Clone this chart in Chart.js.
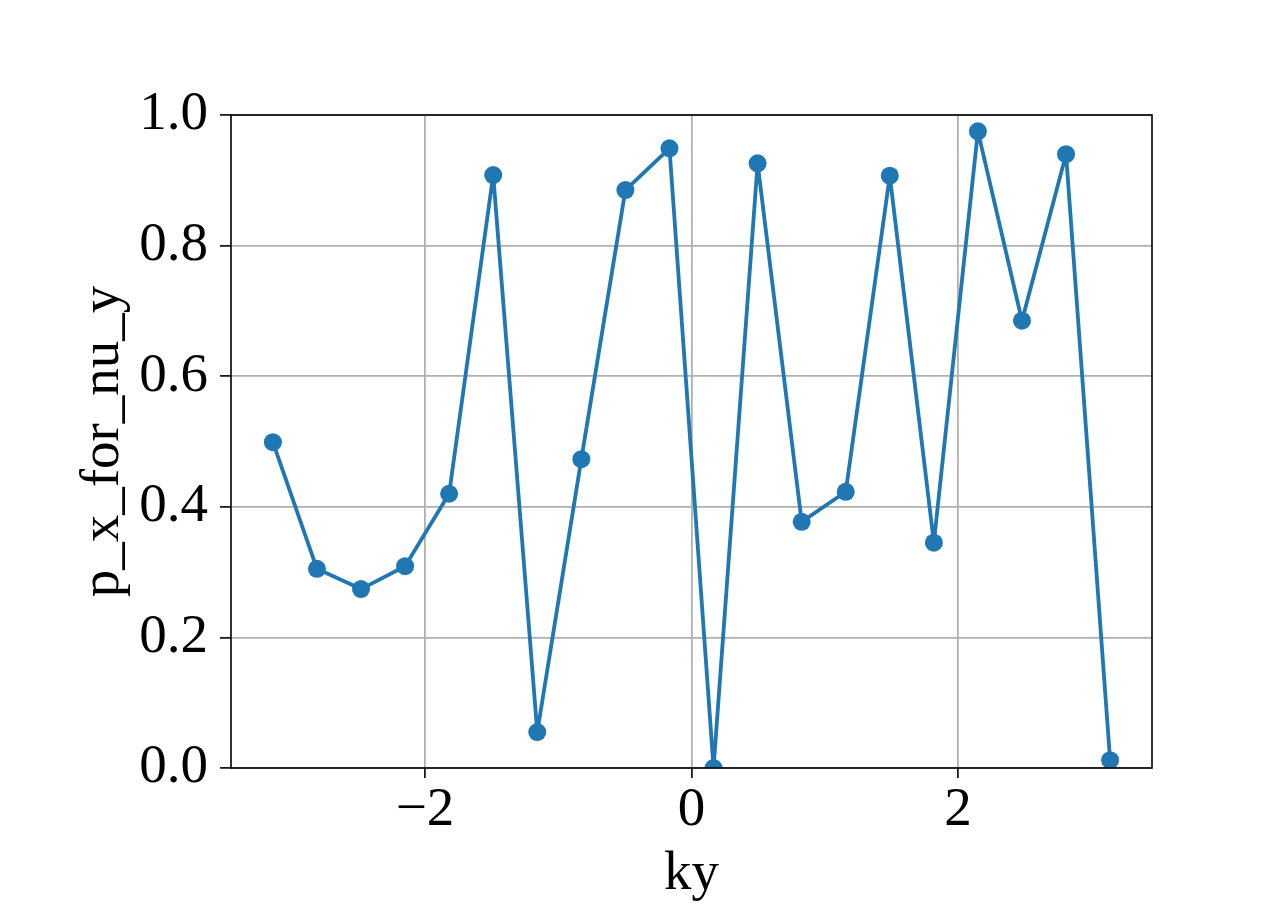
<!DOCTYPE html>
<html>
<head>
<meta charset="utf-8">
<script src="https://cdn.jsdelivr.net/npm/chart.js@4"></script>
<style>
  body { margin: 0; background: #fff; }
</style>
</head>
<body>
<canvas id="chart" width="1280" height="922"></canvas>
<script>
// ky samples (20 points from -pi to pi)
const kyValues = [-3.1416, -2.8109, -2.4802, -2.1495, -1.8189, -1.4882, -1.1575, -0.8268, -0.4961, -0.1654,
                  0.1654, 0.4961, 0.8268, 1.1575, 1.4882, 1.8189, 2.1495, 2.4802, 2.8109, 3.1416];
const pxValues = [0.499, 0.305, 0.274, 0.309, 0.420, 0.908, 0.055, 0.473, 0.885, 0.949,
                  0.000, 0.926, 0.377, 0.423, 0.907, 0.345, 0.975, 0.685, 0.940, 0.012];
const xTicks = [-2, 0, 2];
const yTicks = [0, 0.2, 0.4, 0.6, 0.8, 1.0];

const serif = "'Liberation Serif', 'Times New Roman', serif";

// black box around the plot area, like matplotlib spines
const frame = {
  id: 'frame',
  afterDatasetsDraw(chart) {
    const a = chart.chartArea;
    const ctx = chart.ctx;
    ctx.save();
    ctx.strokeStyle = '#000';
    ctx.lineWidth = 1.6;
    ctx.strokeRect(a.left, a.top, a.right - a.left, a.bottom - a.top);
    ctx.restore();
  }
};

function draw() {
  new Chart(document.getElementById('chart').getContext('2d'), {
    type: 'line',
    data: {
      datasets: [{
        data: kyValues.map((k, i) => ({ x: k, y: pxValues[i] })),
        borderColor: '#1f77b4',
        backgroundColor: '#1f77b4',
        borderWidth: 3.8,
        borderJoinStyle: 'round',
        borderCapStyle: 'round',
        pointRadius: 9,
        pointBorderWidth: 0,
        pointBackgroundColor: '#1f77b4',
        tension: 0,
        fill: false,
        clip: 0
      }]
    },
    options: {
      responsive: false,
      animation: false,
      devicePixelRatio: 1,
      layout: { padding: { left: 0, top: 115, right: 128, bottom: 0 } },
      plugins: {
        legend: { display: false },
        tooltip: { enabled: false }
      },
      scales: {
        x: {
          type: 'linear',
          min: -3.456,
          max: 3.456,
          afterBuildTicks: (scale) => { scale.ticks = xTicks.map(v => ({ value: v })); },
          afterFit: (scale) => { scale.height = 154; },
          border: { display: false },
          grid: { color: '#b0b0b0', lineWidth: 1.8, tickColor: '#000', tickWidth: 1.6, tickLength: 10 },
          ticks: {
            color: '#000',
            padding: 0,
            maxRotation: 0,
            font: { family: serif, size: 55 },
            callback: (v) => (v < 0 ? '\u2212' + Math.abs(v) : String(v))
          },
          title: {
            display: true,
            text: 'ky',
            color: '#000',
            font: { family: serif, size: 55 },
            padding: { top: 0, bottom: 14 }
          }
        },
        y: {
          min: 0,
          max: 1,
          afterBuildTicks: (scale) => { scale.ticks = yTicks.map(v => ({ value: v })); },
          afterFit: (scale) => { scale.width = 231; },
          border: { display: false },
          grid: { color: '#b0b0b0', lineWidth: 1.8, tickColor: '#000', tickWidth: 1.6, tickLength: 11 },
          ticks: {
            color: '#000',
            padding: 12,
            font: { family: serif, size: 55 },
            callback: (v) => v.toFixed(1)
          },
          title: {
            display: true,
            text: 'p_x_for_nu_y',
            color: '#000',
            font: { family: serif, size: 55 },
            padding: { top: 71, bottom: 0 }
          }
        }
      }
    },
    plugins: [frame]
  });
}

if (document.fonts && document.fonts.load) {
  document.fonts.load('55px "Liberation Serif"').then(draw, draw);
} else {
  draw();
}
</script>
</body>
</html>
